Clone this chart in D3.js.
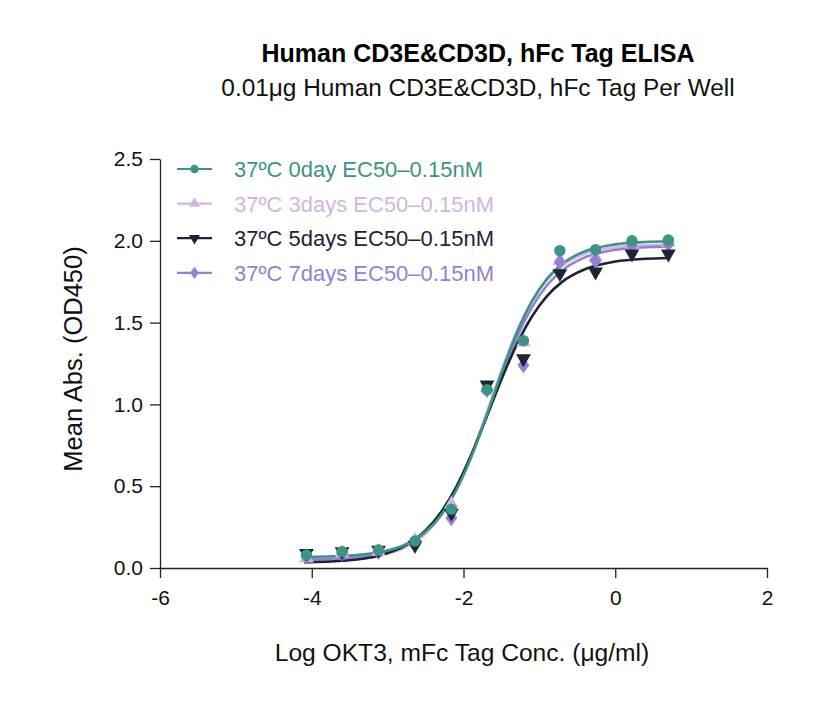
<!DOCTYPE html>
<html>
<head>
<meta charset="utf-8">
<script src="https://cdn.jsdelivr.net/npm/d3@7"></script>
<style>
  body { margin: 0; background: #fff; }
  text { font-family: "Liberation Sans", Arial, sans-serif; }
</style>
</head>
<body>
<div id="chart"></div>
<script>
// measured points (log conc, mean OD450)
var logConc = [-4.07, -3.60, -3.12, -2.64, -2.16, -1.69, -1.21, -0.73, -0.26, 0.22, 0.70];
var od0day = [0.08, 0.10, 0.11, 0.165, 0.36, 1.09, 1.39, 1.94, 1.945, 2.00, 2.005];
var od3days = [0.06, 0.09, 0.10, 0.17, 0.39, 1.10, 1.38, 1.88, 1.90, 1.98, 1.99];
var od5days = [0.09, 0.10, 0.11, 0.14, 0.335, 1.12, 1.28, 1.80, 1.81, 1.92, 1.92];
var od7days = [0.07, 0.09, 0.10, 0.14, 0.305, 1.09, 1.24, 1.87, 1.88, 1.97, 1.98];

// fitted curves
var fitX = [-4.1, -3.6, -3.1, -2.8, -2.5, -2.3, -2.1, -1.9, -1.7, -1.5, -1.3, -1.1, -0.9, -0.7, -0.4, 0, 0.4, 0.7];
var fit0day = [0.067, 0.073, 0.097, 0.136, 0.221, 0.321, 0.471, 0.675, 0.926, 1.191, 1.434, 1.628, 1.767, 1.859, 1.936, 1.978, 1.993, 1.997];
var fit3days = [0.042, 0.049, 0.075, 0.118, 0.209, 0.316, 0.474, 0.688, 0.943, 1.208, 1.446, 1.632, 1.763, 1.849, 1.921, 1.960, 1.973, 1.977];
var fit5days = [0.034, 0.044, 0.077, 0.129, 0.229, 0.339, 0.492, 0.689, 0.917, 1.152, 1.364, 1.536, 1.662, 1.749, 1.826, 1.873, 1.890, 1.895];
var fit7days = [0.053, 0.060, 0.088, 0.133, 0.225, 0.329, 0.480, 0.682, 0.921, 1.174, 1.405, 1.591, 1.728, 1.819, 1.899, 1.945, 1.961, 1.966];

var seriesLabels = ['37ºC 0day EC50–0.15nM', '37ºC 3days EC50–0.15nM', '37ºC 5days EC50–0.15nM', '37ºC 7days EC50–0.15nM'];
var xTicks = [-6, -4, -2, 0, 2];
var yTicks = [0, 0.5, 1.0, 1.5, 2.0, 2.5];

var colors = ['#3f9384', '#d3b6dd', '#1c2535', '#9580d4'];
var shapes = ['circle', 'triUp', 'triDown', 'diamond'];

var series = [
    { name: seriesLabels[0], pts: od0day, fit: fit0day, color: colors[0], shape: shapes[0] },
    { name: seriesLabels[1], pts: od3days, fit: fit3days, color: colors[1], shape: shapes[1] },
    { name: seriesLabels[2], pts: od5days, fit: fit5days, color: colors[2], shape: shapes[2] },
    { name: seriesLabels[3], pts: od7days, fit: fit7days, color: colors[3], shape: shapes[3] }
];

var width = 832;
var height = 708;

var svg = d3.select('#chart').append('svg')
    .attr('width', width)
    .attr('height', height);

svg.append('rect').attr('width', width).attr('height', height).attr('fill', '#fff');

var x = d3.scaleLinear().domain([-6, 2]).range([160, 767]);
var y = d3.scaleLinear().domain([0, 2.5]).range([568, 159]);

// axes
var xAxis = svg.append('g')
    .attr('transform', 'translate(0,' + y(0) + ')')
    .call(d3.axisBottom(x).tickValues(xTicks).tickSize(10).tickSizeOuter(0).tickPadding(12).tickFormat(d3.format('d')));
var yAxis = svg.append('g')
    .attr('transform', 'translate(' + x(-6) + ',0)')
    .call(d3.axisLeft(y).tickValues(yTicks).tickSize(10).tickSizeOuter(0).tickPadding(7).tickFormat(d3.format('.1f')));

[xAxis, yAxis].forEach(function(g) {
    g.selectAll('path, line').attr('stroke', '#222').attr('stroke-width', 1.3);
    g.selectAll('text').attr('fill', '#111').style('font-size', '21px')
        .style('font-family', '"Liberation Sans", Arial, sans-serif');
});
xAxis.selectAll('text').text(function(d) { return d < 0 ? '-' + Math.abs(d) : d; });

// curves
var line = d3.line()
    .x(function(d) { return x(d[0]); })
    .y(function(d) { return y(d[1]); })
    .curve(d3.curveMonotoneX);

var drawOrder = [1, 3, 2, 0];

drawOrder.forEach(function(i) {
    var s = series[i];
    svg.append('path')
        .datum(fitX.map(function(v, k) { return [v, s.fit[k]]; }))
        .attr('d', line)
        .attr('fill', 'none')
        .attr('stroke', s.color)
        .attr('stroke-width', 2.6);
});

function marker(g, shape, color, scale) {
    scale = scale || 1;
    if (shape === 'circle') {
        g.append('circle').attr('r', 5.7 * scale).attr('fill', color);
    } else if (shape === 'triUp') {
        g.append('path').attr('d', d3.symbol().type(d3.symbolTriangle).size(95 * scale * scale)).attr('fill', color);
    } else if (shape === 'triDown') {
        g.append('path').attr('d', d3.symbol().type(d3.symbolTriangle).size(95 * scale * scale))
            .attr('transform', 'rotate(180)').attr('fill', color);
    } else {
        g.append('path').attr('d', d3.symbol().type(d3.symbolDiamond).size(78 * scale * scale))
            .attr('transform', 'scale(1.25,1)').attr('fill', color);
    }
}

drawOrder.forEach(function(i) {
    var s = series[i];
    svg.selectAll(null)
        .data(logConc.map(function(v, k) { return [v, s.pts[k]]; }))
      .enter().append('g')
        .attr('transform', function(d) { return 'translate(' + x(d[0]) + ',' + y(d[1]) + ')'; })
        .each(function() { marker(d3.select(this), s.shape, s.color); });
});

// legend
var legend = svg.selectAll('.legend')
    .data(series)
  .enter().append('g')
    .attr('class', 'legend')
    .attr('transform', function(d, i) { return 'translate(177,' + (169 + i * 34.6) + ')'; });

legend.append('line')
    .attr('x1', 0).attr('x2', 35)
    .attr('stroke', function(d) { return d.color; })
    .attr('stroke-width', 2.2);
legend.each(function(d) {
    var g = d3.select(this).append('g').attr('transform', 'translate(17.5,0)');
    marker(g, d.shape, d.color, 0.75);
});
legend.append('text')
    .attr('x', 57)
    .attr('dy', '0.36em')
    .attr('fill', function(d) { return d.color; })
    .style('font-size', '22px')
    .text(function(d) { return d.name; });

// titles
svg.append('text')
    .attr('x', 478).attr('y', 62)
    .attr('text-anchor', 'middle')
    .style('font-size', '25px').style('font-weight', 'bold')
    .attr('fill', '#000')
    .text('Human CD3E&CD3D, hFc Tag ELISA');
svg.append('text')
    .attr('x', 478).attr('y', 96)
    .attr('text-anchor', 'middle')
    .style('font-size', '24.4px')
    .attr('fill', '#111')
    .text('0.01μg Human CD3E&CD3D, hFc Tag Per Well');

svg.append('text')
    .attr('x', 462).attr('y', 661)
    .attr('text-anchor', 'middle')
    .style('font-size', '24.6px')
    .attr('fill', '#111')
    .text('Log OKT3, mFc Tag Conc. (μg/ml)');

svg.append('text')
    .attr('transform', 'translate(82,359) rotate(-90)')
    .attr('text-anchor', 'middle')
    .style('font-size', '25.5px')
    .attr('fill', '#111')
    .text('Mean Abs. (OD450)');
</script>
</body>
</html>
